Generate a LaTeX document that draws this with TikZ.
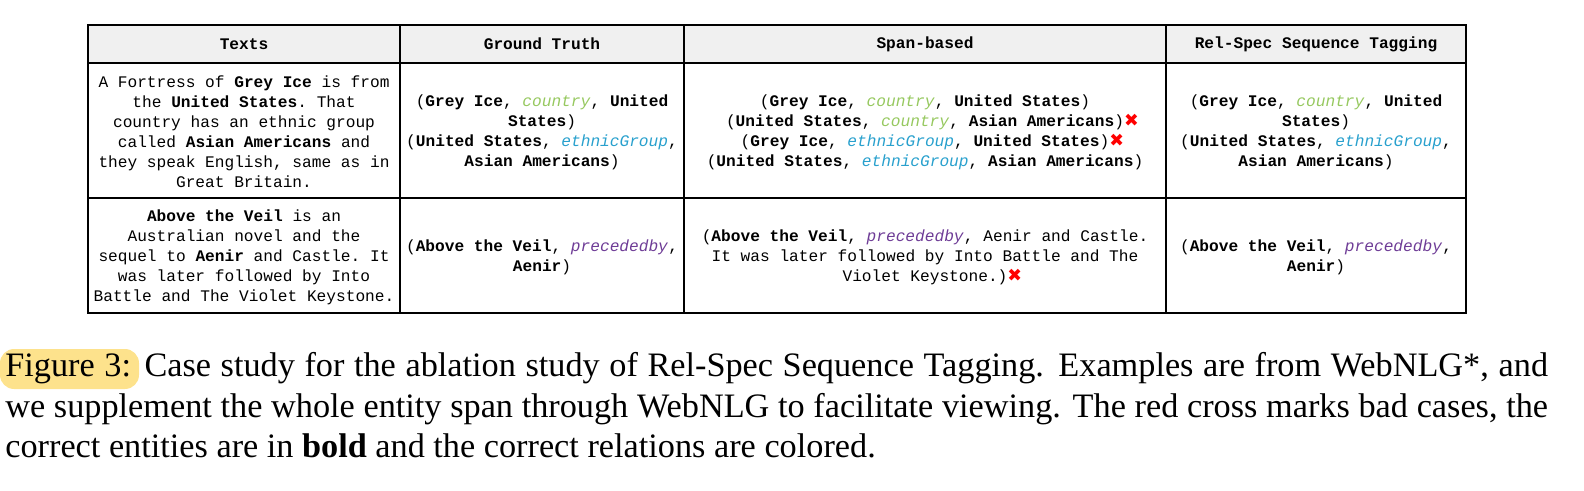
\documentclass[tikz,border=0pt]{standalone}
\usepackage{fontspec}
\setmainfont{Liberation Serif}
\setmonofont{Liberation Mono}
\newfontfamily\djv{DejaVu Sans}
\definecolor{relgreen}{RGB}{150,200,95}
\definecolor{relcyan}{RGB}{40,160,205}
\definecolor{relpurple}{RGB}{110,60,150}
\definecolor{hdrgray}{RGB}{240,240,240}
\definecolor{hilite}{RGB}{253,226,140}
\newcommand{\cg}[1]{\textcolor{relgreen}{\textit{#1}}}
\newcommand{\cc}[1]{\textcolor{relcyan}{\textit{#1}}}
\newcommand{\cp}[1]{\textcolor{relpurple}{\textit{#1}}}
\newcommand{\xx}{\textcolor{red}{\djv\fontsize{10}{10}\selectfont ✖}}
\begin{document}
\begin{tikzpicture}[x=0.02cm,y=-0.02cm,
  cell/.style={align=center,inner sep=0pt,font=\ttfamily\fontsize{9.2pt}{11.4pt}\selectfont},
  captext/.style={anchor=base west,inner sep=0pt,font=\fontsize{19.5pt}{23pt}\selectfont}]
\useasboundingbox (0,0) rectangle (1584,490);
\fill[hdrgray] (88,25) rectangle (1466,63);
\draw[line width=0.8pt] (88,25) rectangle (1466,313);
\draw[line width=0.6pt] (88,63) -- (1466,63) (88,198) -- (1466,198)
  (400,25) -- (400,313) (684,25) -- (684,313) (1166,25) -- (1166,313);
% header
\node[cell] (h1) at (244,44) {\textbf{Texts}};
\node[cell] (h2) at (542,44) {\textbf{Ground Truth}};
\node[cell] (h3) at (925,44) {\textbf{Span-based}};
\node[cell] (h4) at (1316,44) {\textbf{Rel-Spec Sequence Tagging}};
% row 1
\node[cell] (a1) at (244,132) {A Fortress of \textbf{Grey Ice} is from\\the \textbf{United States}. That\\country has an ethnic group\\called \textbf{Asian Americans} and\\they speak English, same as in\\Great Britain.};
\node[cell] (b1) at (542,132) {(\textbf{Grey Ice}, \cg{country}, \textbf{United}\\\textbf{States})\\(\textbf{United States}, \cc{ethnicGroup},\\\textbf{Asian Americans})};
\node[cell] (c1) at (925,132) {(\textbf{Grey Ice}, \cg{country}, \textbf{United States})\\(\textbf{United States}, \cg{country}, \textbf{Asian Americans})\rlap{\xx}\\(\textbf{Grey Ice}, \cc{ethnicGroup}, \textbf{United States})\rlap{\xx}\\(\textbf{United States}, \cc{ethnicGroup}, \textbf{Asian Americans})};
\node[cell] (d1) at (1316,132) {(\textbf{Grey Ice}, \cg{country}, \textbf{United}\\\textbf{States})\\(\textbf{United States}, \cc{ethnicGroup},\\\textbf{Asian Americans})};
% row 2
\node[cell] (a2) at (244,257) {\textbf{Above the Veil} is an\\Australian novel and the\\sequel to \textbf{Aenir} and Castle. It\\was later followed by Into\\Battle and The Violet Keystone.};
\node[cell] (b2) at (542,257) {(\textbf{Above the Veil}, \cp{precededby},\\\textbf{Aenir})};
\node[cell] (c2) at (925,257) {(\textbf{Above the Veil}, \cp{precededby}, Aenir and Castle.\\It was later followed by Into Battle and The\\Violet Keystone.)\rlap{\xx}};
\node[cell] (d2) at (1316,257) {(\textbf{Above the Veil}, \cp{precededby},\\\textbf{Aenir})};
% caption
\fill[hilite,rounded corners=8pt] (0,349) rectangle (139,389);
\node[captext] (l1) at (5,376) {\makebox[30.86cm][s]{Figure 3: Case study for the ablation study of Rel-Spec Sequence Tagging. Examples are from WebNLG*, and}};
\node[captext] (l2) at (5,417) {\makebox[30.86cm][s]{we supplement the whole entity span through WebNLG to facilitate viewing. The red cross marks bad cases, the}};
\node[captext] (l3) at (5,457) {correct entities are in \textbf{bold} and the correct relations are colored.};
\end{tikzpicture}
\end{document}
